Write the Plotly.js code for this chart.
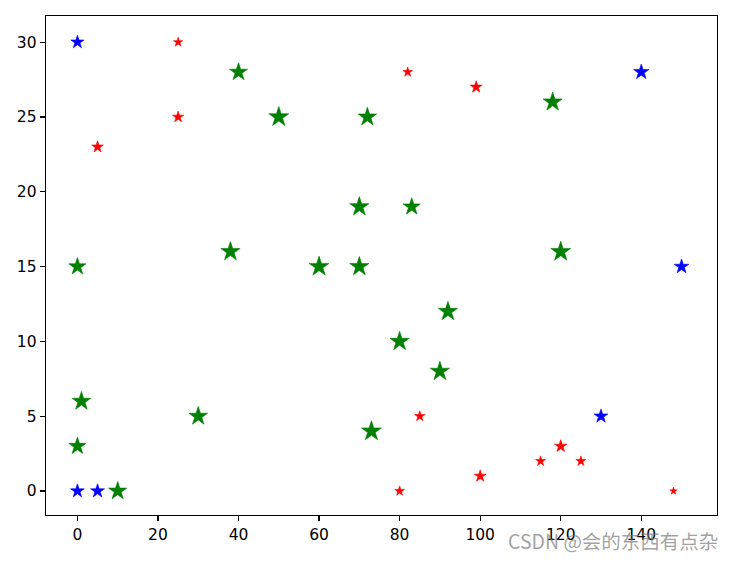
<!DOCTYPE html>
<html>
<head>
<meta charset="utf-8">
<script src="https://cdn.plot.ly/plotly-3.0.1.min.js"></script>
<style>html,body{margin:0;padding:0;background:#fff;}#chart{width:737px;height:561px;}</style>
</head>
<body>
<div id="chart"></div>
<script>
// Blue series
const blueX = [0, 0, 5, 140, 150, 130];
const blueY = [30, 0, 0, 28, 15, 5];
const blueSizes = [10, 10.3, 10.5, 11.5, 11, 10.5];

// Red series
const redX = [25, 25, 5, 82, 99, 85, 80, 100, 115, 120, 125, 148];
const redY = [30, 25, 23, 28, 27, 5, 0, 1, 2, 3, 2, 0];
const redSizes = [7, 8.5, 8.8, 7.3, 9, 7.8, 7.3, 9, 7.5, 9.3, 7.5, 5.5];

// Green series
const greenX = [40, 50, 72, 70, 83, 38, 60, 70, 0, 120, 118, 92, 80, 90, 73, 30, 1, 0, 10];
const greenY = [28, 25, 25, 19, 19, 16, 15, 15, 15, 16, 26, 12, 10, 8, 4, 5, 6, 3, 0];
const greenSizes = [13.5, 15, 14, 14.5, 13, 14.5, 15, 14.5, 13, 15, 14.3, 14.5, 14.5, 14.5, 15, 14, 14, 13, 13.7];

const xTicks = [0, 20, 40, 60, 80, 100, 120, 140];
const yTicks = [0, 5, 10, 15, 20, 25, 30];

function trace(x, y, s, color) {
  return {
    x: x, y: y, type: 'scatter', mode: 'markers', hoverinfo: 'skip',
    marker: {symbol: 'star', size: s, color: color, opacity: 1, line: {width: 0.6, color: color}}
  };
}

const data = [
  trace(blueX, blueY, blueSizes, '#0000ff'),
  trace(redX, redY, redSizes, '#ff0000'),
  trace(greenX, greenY, greenSizes, '#008000')
];

const axisCommon = {
  showline: true, mirror: true, linecolor: '#000', linewidth: 1.3,
  ticks: 'outside', ticklen: 5, tickwidth: 1.3, tickcolor: '#000',
  showgrid: false, zeroline: false,
  tickfont: {family: 'DejaVu Sans', size: 15.5, color: '#000'}
};

const layout = {
  width: 737, height: 561,
  margin: {l: 46, r: 20, t: 16, b: 46},
  paper_bgcolor: '#fff', plot_bgcolor: '#fff',
  showlegend: false,
  xaxis: Object.assign({}, axisCommon, {range: [-7.8, 158.8], tickvals: xTicks, ticktext: xTicks.map(String)}),
  yaxis: Object.assign({}, axisCommon, {range: [-1.6, 31.75], tickvals: yTicks, ticktext: yTicks.map(String)}),
  annotations: [{
    text: 'CSDN @会的东西有点杂', xref: 'paper', yref: 'paper',
    x: 1.005, y: -0.052, xanchor: 'right', yanchor: 'middle', showarrow: false,
    font: {family: 'Noto Sans CJK SC', size: 19.5, color: 'rgba(120,120,120,0.7)'}
  }]
};

Plotly.newPlot('chart', data, layout, {displayModeBar: false, staticPlot: true});
</script>
</body>
</html>
